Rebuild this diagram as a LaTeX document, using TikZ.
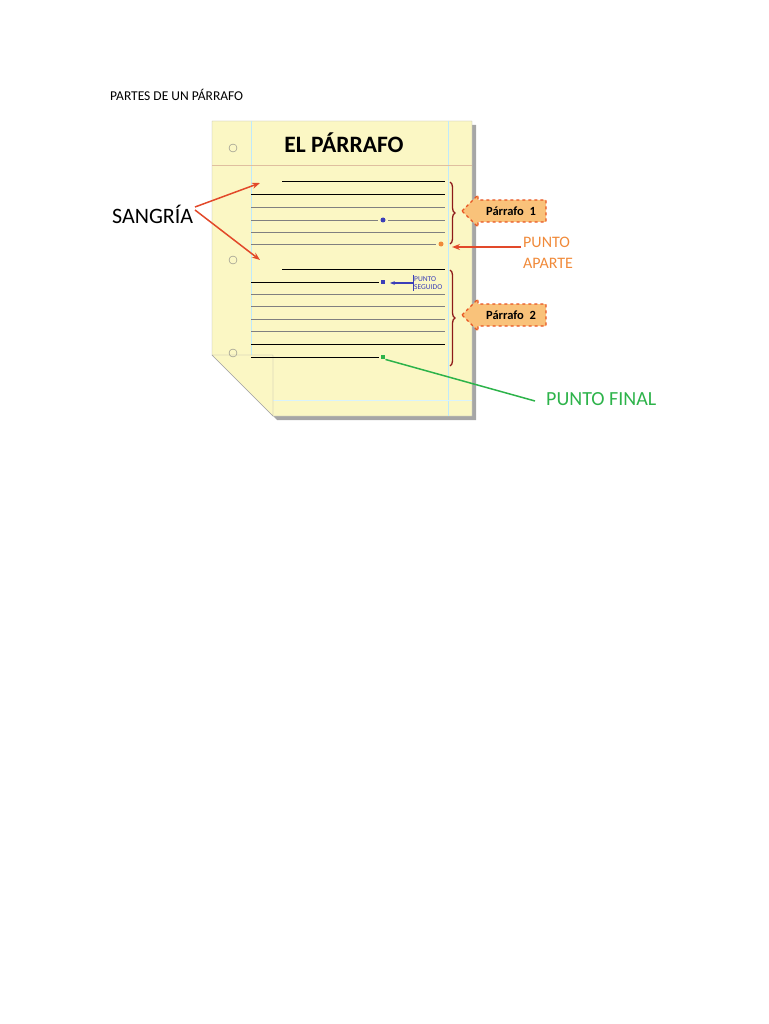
\documentclass[tikz,border=0pt]{standalone}
\usepackage{fontspec}
\setmainfont{Carlito}
\usetikzlibrary{decorations.pathreplacing,arrows.meta}
\definecolor{paper}{HTML}{FBF7C4}
\definecolor{orng}{HTML}{F08A3A}
\definecolor{tagc}{HTML}{F9C27A}
\definecolor{redarr}{HTML}{E2492A}
\definecolor{grn}{HTML}{2DB34A}
\definecolor{blu}{HTML}{3B3FB8}
\definecolor{brc}{HTML}{8E1A1A}
\begin{document}
\begin{tikzpicture}[x=1pt,y=-1pt,
  bl/.style={black,line width=1pt},
  gl/.style={gray,line width=0.9pt},
  dotc/.style={circle,inner sep=0pt,minimum size=5pt},
  tag/.style={fill=tagc,draw=redarr!80!orange,dashed,line width=1.2pt},
  redarrow/.style={redarr,line width=1.5pt,-{Stealth[length=8pt]}}]
\useasboundingbox (0,0) rectangle (768,1024);
\node[anchor=west,inner sep=0pt,font=\fontsize{13.5}{15}\selectfont] (title) at (110,95) {PARTES DE UN PÁRRAFO};
% shadow
\fill[gray!70] (216,125) -- (476,125) -- (476,420) -- (277,420) -- (216,359) -- cycle;
% paper
\fill[paper,draw=gray!60] (212,121) -- (472,121) -- (472,416) -- (273,416) -- (212,355) -- cycle;
\draw[cyan!25,line width=0.8pt] (251,121) -- (251,355) (448,121) -- (448,416);
\draw[brown!50,line width=1pt] (212,166) -- (472,166);
\draw[cyan!15] (273,400) -- (472,400);
\fill[paper,draw=gray!70] (212,355) -- (273,355) -- (273,416) -- cycle;
\foreach \y in {148,260,353} \draw[gray] (233,\y) circle (4);
\node[font=\bfseries\fontsize{23.5}{26}\selectfont] (head) at (344,143) {EL PÁRRAFO};
% paragraph 1
\draw[bl] (282,182) -- (445,182);
\draw[bl] (251,195) -- (445,195);
\draw[gl] (251,207) -- (445,207);
\draw[gl] (251,220) -- (378,220) (388,220) -- (445,220);
\draw[gl] (251,232) -- (445,232);
\draw[gl] (251,244) -- (436,244);
\node[dotc,fill=blu] (d1) at (383,220) {};
\node[dotc,fill=orng] (d2) at (441,244) {};
% paragraph 2
\draw[bl] (282,269) -- (445,269);
\draw[bl] (251,282) -- (379,282);
\node[dotc,fill=blu,rectangle,minimum size=4.5pt] (d3) at (383,282) {};
\foreach \y in {294,306,319,331} \draw[gl] (251,\y) -- (445,\y);
\draw[bl] (251,344) -- (445,344);
\draw[bl] (251,357) -- (379,357);
\node[dotc,fill=grn,rectangle,minimum size=4.5pt] (d4) at (383,357) {};
% braces
\draw[brc,line width=1.3pt,decorate,decoration={brace,amplitude=5pt}] (450,182) -- (450,244);
\draw[brc,line width=1.3pt,decorate,decoration={brace,amplitude=5pt}] (450,270) -- (450,366);
% Parrafo tags
\foreach \yy/\t in {211/1,315/2}{
  \draw[tag] (462,\yy) -- (478,\yy-16) -- (478,\yy-11) -- (546,\yy-11) -- (546,\yy+11) -- (478,\yy+11) -- (478,\yy+16) -- cycle;
  \node[font=\bfseries\fontsize{12.5}{14}\selectfont] at (511,\yy) {Párrafo \ \t};
}
% punto seguido
\node[font=\fontsize{7.5}{8}\selectfont,text=blu,align=left,anchor=west,inner sep=1pt] (ps) at (413,283) {PUNTO\\SEGUIDO};
\draw[blu] (413,275) -- (413,291);
\draw[blu,line width=1.3pt,-{Stealth[length=5pt]}] (413,283) -- (390,283);
% SANGRIA
\node[font=\fontsize{22}{24}\selectfont,anchor=west,inner sep=0pt] (sang) at (112,214) {SANGRÍA};
\coordinate (s1) at (260,183);
\coordinate (s2) at (260,260);
\draw[redarrow] (195,207) -- (s1);
\draw[redarrow] (195,210) -- (s2);
% punto aparte
\node[font=\fontsize{16}{21}\selectfont,text=orng,align=left,anchor=west,inner sep=0pt] (pa) at (523,253) {PUNTO\\APARTE};
\coordinate (pat) at (452,247);
\draw[redarrow] (521,247) -- (pat);
% punto final
\node[font=\fontsize{20}{22}\selectfont,text=grn,anchor=west,inner sep=0pt] (pf) at (546,399) {PUNTO FINAL};
\draw[grn,line width=1.5pt] (535,401) -- (d4.south east);
\end{tikzpicture}
\end{document}
